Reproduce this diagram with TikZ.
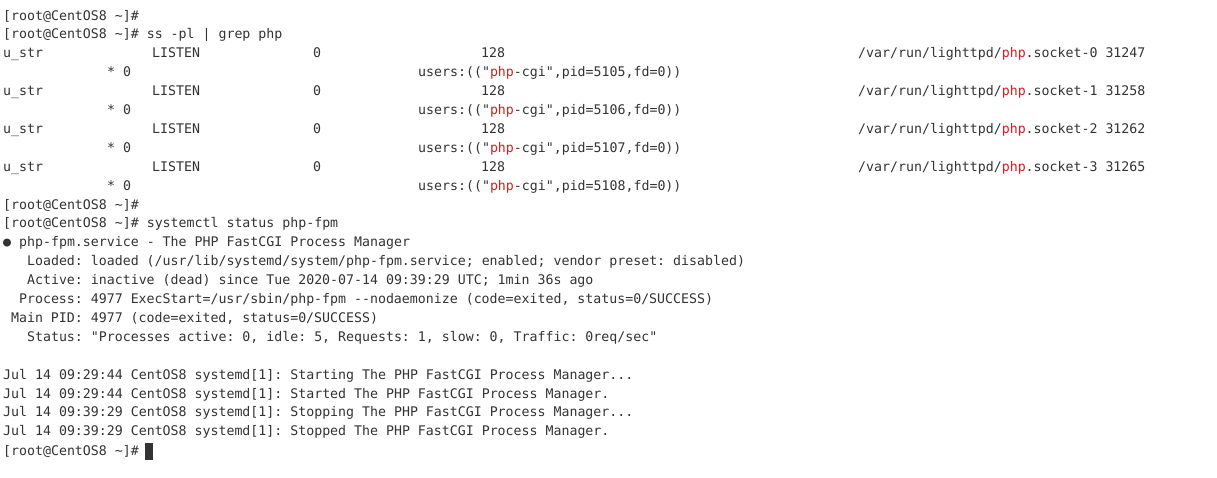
\documentclass[tikz,border=0pt]{standalone}
\usepackage{fontspec}
\setmonofont{DejaVu Sans Mono}[Scale=1]
\definecolor{termtext}{HTML}{333333}
\definecolor{termred}{HTML}{D81E1E}
\newcommand{\php}{\textcolor{termred}{php}}
\tikzset{
  term/.style={anchor=base west, inner sep=0pt, text=termtext,
    font=\fontsize{13.25}{15}\ttfamily}
}

\begin{document}
\begin{tikzpicture}[x=1pt, y=-1pt]

% Page
\fill[white] (0,0) rectangle (1217,477);
\useasboundingbox (0,0) rectangle (1217,477);

% Prompt and ss command
\node[term] (p0) at (3,20) {[root@CentOS8 \textasciitilde]\#};
\node[term] (p1) at (3,38.9) {[root@CentOS8 \textasciitilde]\# ss -pl | grep php};

% Socket table
\foreach \i/\pid/\ino in {0/5105/31247, 1/5106/31258, 2/5107/31262, 3/5108/31265} {
  \pgfmathsetmacro{\ya}{57.8+37.8*\i}
  \pgfmathsetmacro{\yb}{76.7+37.8*\i}
  \node[term] (u\i) at (3,\ya) {u\_str};
  \node[term] (s\i) at (152,\ya) {LISTEN};
  \node[term] (q\i) at (313,\ya) {0};
  \node[term] (b\i) at (481,\ya) {128};
  \node[term] (k\i) at (858,\ya) {/var/run/lighttpd/\php.socket-\i\ \ino};
  \node[term] (z\i) at (107,\yb) {* 0};
  \node[term] (w\i) at (418,\yb) {users:(("\php-cgi",pid=\pid,fd=0))};
}

% systemctl status
\node[term] (p2) at (3,209) {[root@CentOS8 \textasciitilde]\#};
\node[term] (p3) at (3,227.9) {[root@CentOS8 \textasciitilde]\# systemctl status php-fpm};
\node[term] (st0) at (3,246.8) {●\ php-fpm.service - The PHP FastCGI Process Manager};
\node[term] (st1) at (26.9,265.7) {Loaded: loaded (/usr/lib/systemd/system/php-fpm.service; enabled; vendor preset: disabled)};
\node[term] (st2) at (26.9,284.6) {Active: inactive (dead) since Tue 2020-07-14 09:39:29 UTC; 1min 36s ago};
\node[term] (st3) at (18.9,303.5) {Process: 4977 ExecStart=/usr/sbin/php-fpm --nodaemonize (code=exited, status=0/SUCCESS)};
\node[term] (st4) at (10.9,322.4) {Main PID: 4977 (code=exited, status=0/SUCCESS)};
\node[term] (st5) at (26.9,341.3) {Status: "Processes active: 0, idle: 5, Requests: 1, slow: 0, Traffic: 0req/sec"};

% Journal
\node[term] (j0) at (3,379.1) {Jul 14 09:29:44 CentOS8 systemd[1]: Starting The PHP FastCGI Process Manager...};
\node[term] (j1) at (3,398) {Jul 14 09:29:44 CentOS8 systemd[1]: Started The PHP FastCGI Process Manager.};
\node[term] (j2) at (3,416.9) {Jul 14 09:39:29 CentOS8 systemd[1]: Stopping The PHP FastCGI Process Manager...};
\node[term] (j3) at (3,435.8) {Jul 14 09:39:29 CentOS8 systemd[1]: Stopped The PHP FastCGI Process Manager.};
\node[term] (p4) at (3,455.7) {[root@CentOS8 \textasciitilde]\#};

% Cursor
\fill[termtext] (145,443) rectangle (153,460);

\end{tikzpicture}
\end{document}
